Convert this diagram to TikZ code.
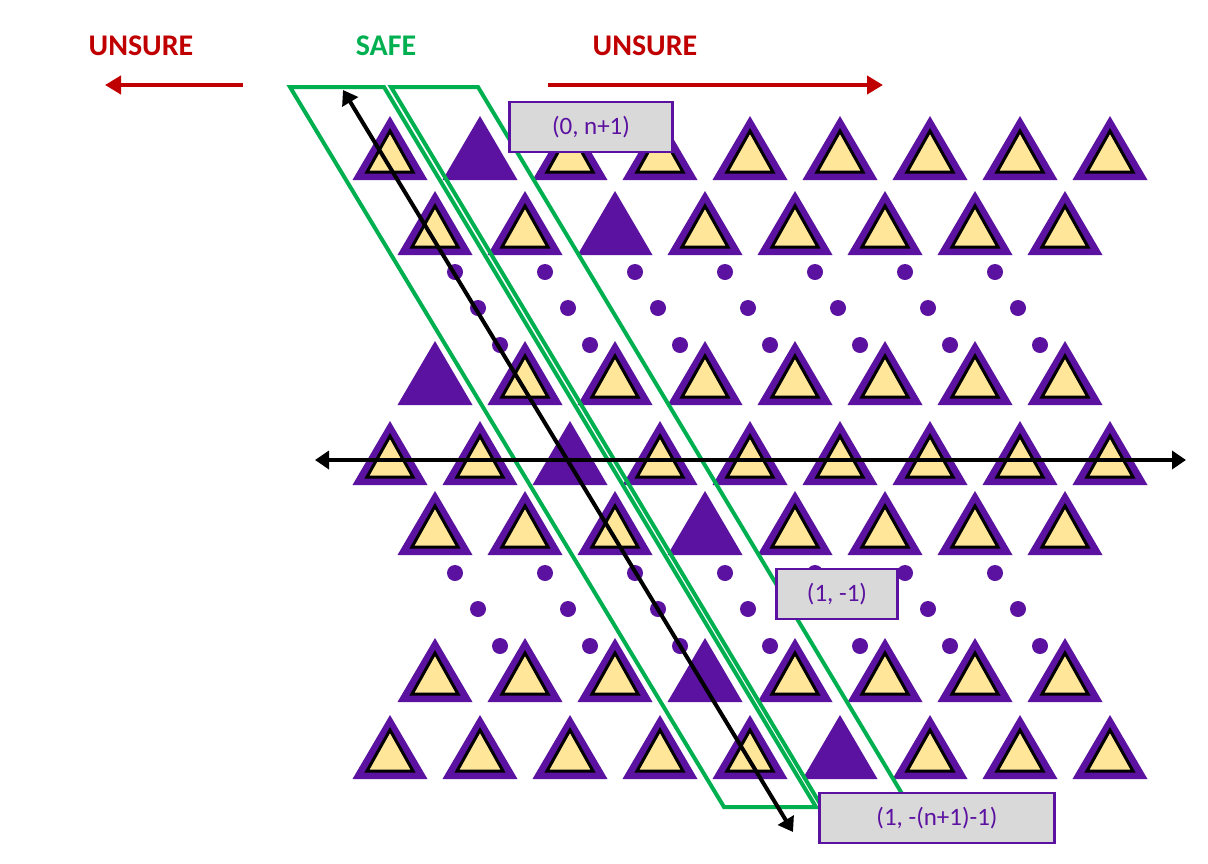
\documentclass[tikz,border=0pt]{standalone}
\usepackage{fontspec}
\setmainfont{Carlito}
\usetikzlibrary{arrows.meta}
\definecolor{pur}{HTML}{5B12A0}
\definecolor{yel}{HTML}{FFE699}
\definecolor{dred}{HTML}{C00000}
\definecolor{grn}{HTML}{00B050}
\definecolor{lgray}{HTML}{D9D9D9}
\tikzset{
 lbl/.style={draw=pur,line width=2.5pt,fill=lgray,text=pur,font=\fontsize{25}{28}\selectfont,inner sep=5pt,minimum height=50pt},
 hdr/.style={font=\bfseries\fontsize{30}{34}\selectfont},
 grnbox/.style={draw=grn,line width=4pt,line join=miter},
}
\newcommand{\tri}[3]{% x, base y, solid?
 \fill[pur] (#1-37.5,-#2) -- (#1,-#2+64) -- (#1+37.5,-#2) -- cycle;
 \ifnum#3=0
 \filldraw[fill=yel,draw=black,line width=3pt,line join=miter] (#1-23,-#2+8) -- (#1,-#2+49) -- (#1+23,-#2+8) -- cycle;
 \fi}
\begin{document}
\begin{tikzpicture}[x=1pt,y=1pt]
\useasboundingbox (0,0) rectangle (1208,-863);
% row 1
\foreach \x/\s in {390/0,480/1,570/0,660/0,750/0,840/0,930/0,1020/0,1110/0} {\tri{\x}{180}{\s}}
\foreach \x/\s in {435/0,525/0,615/1,705/0,795/0,885/0,975/0,1065/0} {\tri{\x}{255}{\s}}
\foreach \x/\s in {435/1,525/0,615/0,705/0,795/0,885/0,975/0,1065/0} {\tri{\x}{405}{\s}}
\foreach \x/\s in {390/0,480/0,570/1,660/0,750/0,840/0,930/0,1020/0,1110/0} {\tri{\x}{485}{\s}}
\foreach \x/\s in {435/0,525/0,615/0,705/1,795/0,885/0,975/0,1065/0} {\tri{\x}{555}{\s}}
\foreach \x/\s in {435/0,525/0,615/0,705/1,795/0,885/0,975/0,1065/0} {\tri{\x}{702}{\s}}
\foreach \x/\s in {390/0,480/0,570/0,660/0,750/0,840/1,930/0,1020/0,1110/0} {\tri{\x}{779}{\s}}
% dots
\foreach \yo in {0,301}{
 \foreach \i in {0,...,6}{
  \fill[pur] (455+90*\i,-272-\yo) circle (8);
  \fill[pur] (478+90*\i,-308-\yo) circle (8);
  \fill[pur] (500+90*\i,-345-\yo) circle (8);
 }}
% green parallelograms
\draw[grnbox] (290,-87) -- (384,-87) -- (816,-807) -- (724,-807) -- cycle;
\draw[grnbox] (391,-87) -- (478,-87) -- (910,-807) -- (822,-807) -- cycle;
% arrows
\coordinate (hl) at (315,-460); \coordinate (hr) at (1186,-460);
\draw[line width=4pt,{Triangle[length=14pt,width=18pt]}-{Triangle[length=14pt,width=18pt]}] (hl) -- (hr);
\coordinate (dt) at (343,-90); \coordinate (db) at (793,-832);
\draw[line width=4pt,{Triangle[length=14pt,width=18pt]}-{Triangle[length=14pt,width=18pt]}] (dt) -- (db);
% headers
\node[hdr,text=dred] (u1) at (141,-46) {UNSURE};
\node[hdr,text=grn] (sf) at (386,-46) {SAFE};
\node[hdr,text=dred] (u2) at (645,-46) {UNSURE};
\coordinate (l1) at (243,-85); \coordinate (l2) at (105,-85);
\coordinate (r1) at (548,-85); \coordinate (r2) at (883,-85);
\draw[dred,line width=4pt,-{Triangle[length=16pt,width=18pt]}] (l1) -- (l2);
\draw[dred,line width=4pt,-{Triangle[length=16pt,width=18pt]}] (r1) -- (r2);
% labels
\node[lbl,minimum width=163pt] (a) at (591,-127) {(0, n+1)};
\node[lbl,minimum width=121pt] (b) at (837,-594) {(1, -1)};
\node[lbl,minimum width=235pt] (c) at (937,-818) {(1, -(n+1)-1)};
\end{tikzpicture}
\end{document}
